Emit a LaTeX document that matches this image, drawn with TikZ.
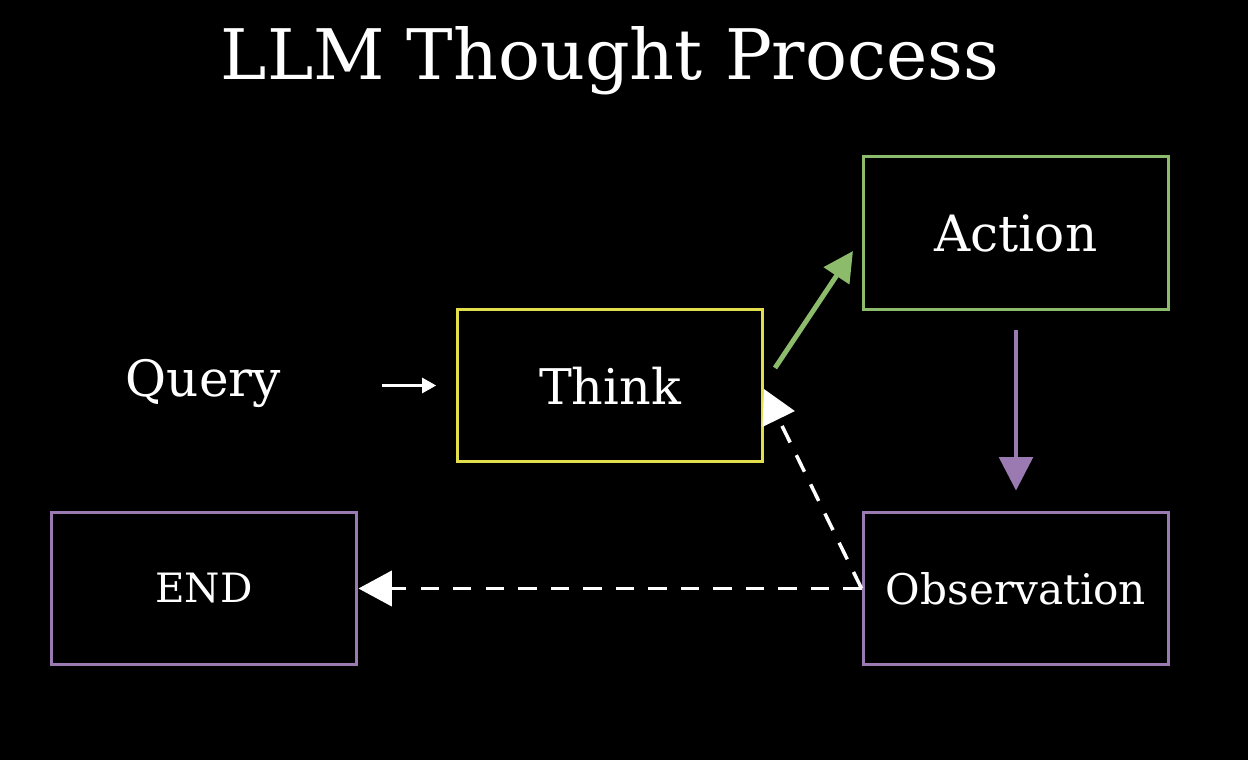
\documentclass[tikz,border=0pt]{standalone}
\usepackage{fontspec}
\setmainfont{DejaVu Serif}
\usetikzlibrary{arrows.meta}
\definecolor{thinkyellow}{HTML}{E2DE4C}
\definecolor{actgreen}{HTML}{8DBB6C}
\definecolor{obspurple}{HTML}{9A7AB0}
\tikzset{
  box/.style={draw, line width=1.7pt, minimum width=6.12cm, minimum height=3.05cm, inner sep=0pt, text=white, fill=black},
  bigtxt/.style={font=\fontsize{28.5}{34}\selectfont},
  smalltxt/.style={font=\fontsize{24}{29}\selectfont},
  dashline/.style={draw=white, line width=2pt, dash pattern=on 10.5pt off 8pt},
}
\begin{document}
\begin{tikzpicture}[x=0.02cm, y=-0.02cm]
\fill[black] (0,0) rectangle (1248,760);
\useasboundingbox (0,0) rectangle (1248,760);
\node[text=white, font=\fontsize{39.7}{46}\selectfont] (title) at (610,61) {LLM Thought Process};
\node[box, draw=thinkyellow, font=\fontsize{28}{34}\selectfont] (think) at (610,385.5) {Think};
\node[box, draw=actgreen, bigtxt] (action) at (1016,233) {Action};
\node[box, draw=obspurple, smalltxt] (obs) at (1016,588.5) {Observation};
\node[box, draw=obspurple, font=\fontsize{23}{28}\selectfont] (end) at (204,588.5) {END};
\node[text=white, bigtxt] (query) at (203.5,383) {Query};
\coordinate (ta1) at (775,368);
\coordinate (ta2) at (853,251);
\coordinate (ot) at (764,389);
% Query -> Think
\draw[white, line width=1.6pt, -{Triangle[length=8pt,width=8.5pt]}, shorten <=54pt, shorten >=11pt] (query.east |- think.west) -- (think.west);
% Think -> Action
\draw[actgreen, line width=2.8pt, -{Triangle[length=17pt,width=17pt]}] (ta1) -- (ta2);
% Action -> Observation
\draw[obspurple, line width=2.4pt, -{Triangle[length=19pt,width=19pt]}, shorten <=11pt, shorten >=11.5pt] (action.south) -- (obs.north);
% Observation -> END
\draw[dashline, -{Triangle[length=19pt,width=20pt,fill=white]}] (obs.west) -- (end.east);
% Observation -> Think
\draw[dashline, -{Triangle[length=19pt,width=20pt,fill=white]}] (obs.west) -- (ot);
\end{tikzpicture}
\end{document}
